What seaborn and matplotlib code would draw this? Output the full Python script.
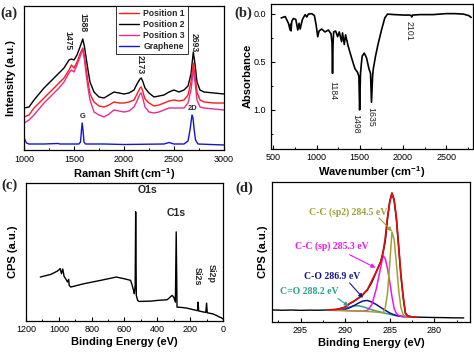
import matplotlib
matplotlib.use("Agg")
import matplotlib.pyplot as plt
from matplotlib.ticker import MultipleLocator, FormatStrFormatter
import seaborn as sns

# ---------------- (a) Raman ----------------
raman_x = [1000, 1050, 1100, 1150, 1200, 1250, 1300, 1350, 1400, 1450, 1475, 1500, 1530, 1560, 1588,
           1605, 1620, 1640, 1660, 1700, 1750, 1800, 1850, 1900, 1950, 2000, 2050, 2100, 2130, 2160,
           2173, 2190, 2210, 2250, 2300, 2350, 2400, 2450, 2500, 2550, 2600, 2640, 2670, 2693, 2710,
           2730, 2760, 2800, 2900, 3000]
pos2 = [42, 43, 50, 56, 62, 67, 72, 77, 82, 90, 91, 90, 95, 103, 111,
        103, 93, 80, 68, 58, 53, 52, 55, 58, 57, 56, 57, 60, 66, 71,
        72, 68, 62, 57, 53, 54, 55, 58, 60, 58, 60, 64, 76, 98, 86,
        68, 60, 58, 57, 56]
pos1 = [33, 35, 42, 47, 52, 57, 62, 67, 72, 80, 85, 82, 88, 96, 102,
        93, 83, 68, 56, 48, 44, 43, 45, 48, 47, 47, 48, 50, 56, 62,
        63, 58, 51, 47, 44, 45, 47, 49, 50, 49, 50, 55, 68, 87, 75,
        58, 50, 48, 47, 47]
pos3 = [27, 30, 35, 41, 47, 52, 57, 62, 68, 77, 80, 78, 85, 93, 101,
        90, 77, 62, 50, 38, 35, 33, 36, 40, 39, 38, 39, 43, 49, 56,
        57, 51, 43, 38, 37, 38, 40, 42, 42, 42, 42, 47, 60, 80, 68,
        50, 43, 42, 41, 40]
graph_x = [1000, 1010, 1025, 1050, 1200, 1340, 1360, 1550, 1565, 1575, 1582, 1590, 1600, 1615,
           1800, 2000, 2400, 2450, 2500, 2600, 2640, 2660, 2680, 2690, 2700, 2715, 2740, 3000]
graph_y = [13, 10, 7, 6, 6, 6.5, 6, 6, 8, 20, 27, 20, 8, 6,
           6, 5.5, 6, 7.5, 6, 6, 9, 20, 35, 32, 22, 10, 6, 5]
raman_labels = ["1475", "1588", "2173", "2693"]
raman_label_x = [1443, 1593, 2160, 2703]
raman_label_y = [109, 127, 85, 107]

# ---------------- (b) FTIR ----------------
ir_x = [590, 636, 674, 693, 700, 705, 712, 732, 759, 782, 797, 809, 836, 867, 886, 905, 944, 974,
        993, 1013, 1028, 1059, 1097, 1136, 1167, 1178, 1184, 1190, 1197, 1220, 1243, 1262, 1289,
        1300, 1320, 1335, 1366, 1405, 1443, 1474, 1489, 1498, 1508, 1520, 1528, 1551, 1578, 1605,
        1624, 1635, 1648, 1655, 1682, 1713, 1751, 1789, 1820, 1900, 2020, 2078, 2095, 2101, 2110,
        2200, 2350, 2500, 2600, 2700, 2760, 2790]
ir_y = [0.045, 0.03, 0.10, 0.17, 0.11, 0.18, 0.08, 0.05, 0.06, 0.17, 0.10, 0.16, 0.06, 0.01, 0.035,
        0.005, 0.0, 0.02, 0.11, 0.24, 0.18, 0.16, 0.19, 0.17, 0.21, 0.30, 0.62, 0.32, 0.19, 0.18,
        0.24, 0.19, 0.29, 0.20, 0.32, 0.22, 0.34, 0.46, 0.57, 0.61, 0.65, 1.0, 0.62, 0.50, 0.44,
        0.41, 0.46, 0.57, 0.62, 0.92, 0.65, 0.58, 0.44, 0.31, 0.17, 0.045, 0.005, 0.01, 0.015,
        0.015, 0.02, 0.035, 0.015, 0.01, 0.01, 0.0, 0.0, 0.005, 0.02, 0.04]
ir_labels = ["1184", "1498", "1635", "2101"]
ir_label_x = [1184, 1450, 1625, 2068]
ir_label_y = [0.80, 1.14, 1.07, 0.18]

# ---------------- (c) XPS survey ----------------
surv_x = [1113, 1048, 1008, 992, 984, 976, 968, 960, 947, 940, 937, 927, 900, 846, 745, 650, 604,
          563, 553, 545, 540, 535, 532, 528, 520, 512, 441, 400, 340, 310, 300, 290, 285, 280, 250,
          220, 160, 155, 152, 148, 105, 100, 96, 60, 40, 20, 10, 3]
surv_y = [43.3, 46, 49.3, 51.7, 46.7, 51.3, 44, 42, 38.3, 41, 35, 33.3, 34.5, 36.7, 40, 43.3, 41.7,
          40, 35, 30, 26.7, 35, 108.3, 25, 20, 19, 19.3, 20, 20.7, 25, 23.3, 18.3, 88.3, 13.3, 13,
          12.3, 10, 9.8, 18.3, 9.5, 8, 17.3, 7.7, 6.5, 5, 3.3, 2.8, 1.7]
surv_labels = ["O1s", "C1s", "Si2s", "Si2p"]
surv_label_x = [461, 283, 154, 73]
surv_label_y = [130, 107, 44, 47]

# ---------------- (d) XPS C1s ----------------
raw_x = [298.2, 297, 296, 295, 294, 293, 292, 291, 290, 289.5, 289, 288.5, 288, 287.5, 287, 286.5,
         286, 285.75, 285.5, 285.25, 285, 284.75, 284.5, 284.25, 284, 283.75, 283.5, 283.25, 283,
         282.5, 282, 281, 280, 279, 278, 277, 276.7]
raw_y = [11.6, 11.3, 11.5, 11.2, 11.4, 11.3, 11.6, 12.1, 14.4, 17.8, 20.4, 23.6, 27.2, 31.8, 39.3,
         50.2, 60.3, 69.5, 80.4, 103.5, 120.5, 128.6, 122.3, 102.6, 75.5, 46.5, 24.6, 8.8, 5.6,
         4.7, 4.4, 4.2, 4.0, 3.9, 3.7, 3.6, 3.6]
fit_x = [292, 291, 290.5, 290, 289.5, 289, 288.5, 288, 287.5, 287, 286.5, 286, 285.75, 285.5,
         285.25, 285, 284.75, 284.5, 284.25, 284, 283.75, 283.5, 283.25, 283, 282.5, 282]
envelope = [11.6, 12, 12.8, 14.5, 18, 20.5, 23.5, 27, 32, 41, 50, 60, 69, 83.5,
            104, 120, 129, 121, 104, 75, 47, 26, 8.5, 5.5, 4.6, 4.5]
c_sp2 = [11.5, 11.2, 11.1, 11.0, 10.8, 10.7, 10.5, 10.3, 10.1, 9.8, 9.4, 9.0, 8.6, 14,
         28, 58, 90, 82, 58, 32, 14, 7, 5.2, 4.8, 4.7, 4.7]
c_sp = [11.5, 11.2, 11.1, 11.0, 10.8, 10.7, 10.5, 10.4, 11, 17, 33, 55, 66, 63,
        53, 40, 25, 13, 8, 6, 5.3, 5.0, 4.9, 4.8, 4.7, 4.7]
c_o = [11.5, 11.3, 11.5, 12.2, 13.8, 16, 18.5, 20.6, 21.1, 19.5, 17, 14, 12.6, 11.2,
       9.9, 8.6, 7.6, 6.7, 6.0, 5.5, 5.2, 5.0, 4.9, 4.8, 4.7, 4.7]
c_eq_o = [11.5, 11.6, 12.2, 13.3, 14.6, 15.7, 15.8, 14.8, 13.3, 11.8, 10.5, 9.4, 8.8, 8.3,
          7.8, 7.3, 6.8, 6.3, 5.9, 5.5, 5.2, 5.0, 4.9, 4.8, 4.7, 4.7]
d_labels = ["C-C (sp2) 284.5 eV", "C-C (sp) 285.3 eV", "C-O 286.9 eV", "C=O 288.2 eV"]
d_label_x = [289.7, 291.5, 291.5, 294.0]
d_label_y = [110, 76, 45, 30]
d_arrow_from = [(286.2, 104), (289.5, 67), (289.5, 38.7), (290.8, 23)]
d_arrow_to = [(284.75, 90.5), (286.6, 54), (288.0, 23.7), (289.6, 15.5)]

# ---------------- style ----------------
sns.set_theme(style="ticks")
plt.rcParams['font.family'] = ['Liberation Sans', 'DejaVu Sans']
plt.rcParams.update({
    'axes.linewidth': 0.9,
    'axes.edgecolor': 'black',
    'xtick.direction': 'in', 'ytick.direction': 'in',
    'xtick.major.size': 3, 'ytick.major.size': 3,
    'xtick.minor.size': 1.6, 'ytick.minor.size': 1.6,
    'xtick.major.width': 0.8, 'ytick.major.width': 0.8,
    'xtick.minor.width': 0.7, 'ytick.minor.width': 0.7,
    'xtick.labelsize': 6.5, 'ytick.labelsize': 6.5,
    'xtick.color': 'black', 'ytick.color': 'black',
    'axes.labelsize': 8, 'axes.labelweight': 'bold',
    'axes.labelcolor': 'black',
    'mathtext.fontset': 'custom',
    'mathtext.rm': 'Liberation Sans',
    'mathtext.bf': 'Liberation Sans:bold',
})

W, H = 474, 352
fig = plt.figure(figsize=(W / 100, H / 100), dpi=100)


def box(l, r, t, b):
    return [l / W, (H - b) / H, (r - l) / W, (b - t) / H]


serif = ['Liberation Serif', 'DejaVu Serif']

# ---- (a)
ax = fig.add_axes(box(24, 224, 6, 150))
sns.lineplot(x=raman_x, y=pos2, ax=ax, color='black', lw=1.0, sort=False, label='Position 2')
sns.lineplot(x=raman_x, y=pos1, ax=ax, color='#ff1a1a', lw=1.0, sort=False, label='Position 1')
sns.lineplot(x=raman_x, y=pos3, ax=ax, color='#ec2a8c', lw=1.0, sort=False, label='Position 3')
sns.lineplot(x=graph_x, y=graph_y, ax=ax, color='#1414d2', lw=1.0, sort=False, label='Graphene')
ax.set_xlim(1000, 3000)
ax.set_ylim(0, 144)
ax.set_yticks([])
ax.xaxis.set_major_locator(MultipleLocator(500))
ax.xaxis.set_minor_locator(MultipleLocator(250))
ax.set_xlabel('Raman Shift (cm$^{\\mathbf{-1}}$)', labelpad=1.5)
ax.set_ylabel('Intensity (a.u.)', labelpad=6)
h, l = ax.get_legend_handles_labels()
order = [l.index(n) for n in ['Position 1', 'Position 2', 'Position 3', 'Graphene']]
leg = ax.legend([h[i] for i in order], [l[i] for i in order], loc='upper left',
                bbox_to_anchor=(0.46, 1.0), borderaxespad=0, frameon=True, fancybox=False,
                edgecolor='black', handlelength=2.3, labelspacing=0.25, handletextpad=0.5,
                borderpad=0.35, prop={'weight': 'bold', 'size': 6.2})
leg.get_frame().set_linewidth(0.7)
for t, xx, yy in zip(raman_labels, raman_label_x, raman_label_y):
    ax.text(xx, yy, t, rotation=270, ha='center', va='center', fontsize=6.2, fontweight='bold')
ax.text(1587, 33, 'G', ha='center', va='center', fontsize=5.4, fontweight='bold')
ax.text(2687, 42, '2D', ha='center', va='center', fontsize=5.4, fontweight='bold')

# ---- (b)
ax = fig.add_axes(box(271, 473, 4, 148.5))
sns.lineplot(x=ir_x, y=ir_y, ax=ax, color='black', lw=1.2, sort=False)
ax.set_xlim(472, 2810)
ax.set_ylim(1.40, -0.10)
ax.set_yticks([0.0, 0.5, 1.0])
ax.yaxis.set_minor_locator(MultipleLocator(0.25))
ax.yaxis.set_major_formatter(FormatStrFormatter('%.1f'))
ax.xaxis.set_major_locator(MultipleLocator(500))
ax.xaxis.set_minor_locator(MultipleLocator(250))
ax.set_xlabel('Wavenumber (cm$^{\\mathbf{-1}}$)', labelpad=1)
ax.set_ylabel('Absorbance', labelpad=1)
for t, xx, yy in zip(ir_labels, ir_label_x, ir_label_y):
    ax.text(xx, yy, t, rotation=270, ha='center', va='center', fontsize=6.3)

# ---- (c)
ax = fig.add_axes(box(26, 223, 183, 320.5))
sns.lineplot(x=surv_x, y=surv_y, ax=ax, color='black', lw=1.0, sort=False)
ax.set_xlim(1200, 0)
ax.set_ylim(0, 137)
ax.set_yticks([])
ax.xaxis.set_major_locator(MultipleLocator(200))
ax.xaxis.set_minor_locator(MultipleLocator(100))
ax.set_xlabel('Binding Energy (eV)', labelpad=2)
ax.set_ylabel('CPS (a.u.)', labelpad=6)
for t, xx, yy in zip(surv_labels, surv_label_x, surv_label_y):
    if t.startswith('Si'):
        ax.text(xx, yy, t, rotation=270, ha='center', va='center', fontsize=6.5, fontweight='bold')
    else:
        ax.text(xx, yy, t, ha='center', va='center', fontsize=7.6, fontweight='bold')

# ---- (d)
ax = fig.add_axes(box(272, 470, 182, 321.5))
sns.lineplot(x=raw_x, y=raw_y, ax=ax, color='black', lw=1.0, sort=False)
d_colors = ['#a0a032', '#f014f0', '#14148c', '#2e9e8e']
for ys, c in zip([c_eq_o, c_o, c_sp, c_sp2], d_colors[::-1]):
    sns.lineplot(x=fit_x, y=ys, ax=ax, color=c, lw=1.1, sort=False)
sns.lineplot(x=fit_x, y=envelope, ax=ax, color='#d41010', lw=1.3, sort=False)
ax.set_xlim(298.2, 276.0)
ax.set_ylim(0, 140)
ax.set_yticks([])
ax.xaxis.set_major_locator(MultipleLocator(5))
ax.xaxis.set_minor_locator(MultipleLocator(2.5))
ax.set_xlabel('Binding Energy (eV)', labelpad=2)
ax.set_ylabel('CPS (a.u.)', labelpad=3)
for t, xx, yy, c, p0, p1 in zip(d_labels, d_label_x, d_label_y, d_colors, d_arrow_from, d_arrow_to):
    ax.text(xx, yy, t, ha='center', va='center', fontsize=7, fontweight='bold',
            color=c, family=serif)
    ax.annotate('', xy=p1, xytext=p0,
                arrowprops=dict(arrowstyle='-|>', color=c, lw=0.8, mutation_scale=6,
                                shrinkA=0, shrinkB=0))

# panel letters
for t, xx, yy in [('(a)', 9, 13), ('(b)', 243, 13), ('(c)', 9, 185), ('(d)', 244, 188)]:
    fig.text(xx / W, 1 - yy / H, t, ha='center', va='center', fontsize=10.5,
             fontweight='bold', family=serif)

fig.savefig('out.png', dpi=100)
